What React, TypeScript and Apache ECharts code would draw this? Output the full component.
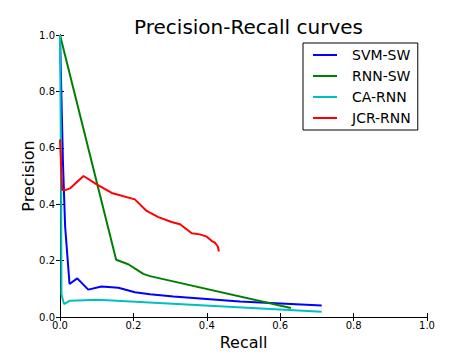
import React, { useEffect, useRef } from "react";
import * as echarts from "echarts";

const seriesNames = ["SVM-SW", "RNN-SW", "CA-RNN", "JCR-RNN"];
const seriesColors = ["#0000ff", "#008000", "#00bfbf", "#ff0000"];

const svmRecall = [0, 0.008, 0.014, 0.026, 0.047, 0.077, 0.113, 0.159, 0.204, 0.245, 0.309, 0.49, 0.713];
const svmPrecision = [1.0, 0.55, 0.32, 0.117, 0.137, 0.097, 0.108, 0.104, 0.088, 0.081, 0.073, 0.055, 0.041];

const rnnRecall = [0, 0.153, 0.186, 0.209, 0.227, 0.245, 0.629];
const rnnPrecision = [1.0, 0.203, 0.187, 0.168, 0.153, 0.145, 0.032];

const caRecall = [0, 0.003, 0.004, 0.011, 0.027, 0.104, 0.713];
const caPrecision = [1.0, 0.5, 0.08, 0.046, 0.058, 0.061, 0.019];

const jcrRecall = [0, 0.006, 0.014, 0.027, 0.064, 0.1, 0.141, 0.204, 0.236, 0.268, 0.304, 0.327, 0.359, 0.381, 0.4, 0.413, 0.422, 0.43, 0.433];
const jcrPrecision = [0.63, 0.45, 0.45, 0.456, 0.5, 0.47, 0.44, 0.417, 0.376, 0.354, 0.337, 0.329, 0.297, 0.293, 0.285, 0.27, 0.264, 0.25, 0.232];

const axisTicks = [0, 0.2, 0.4, 0.6, 0.8, 1.0];

const zip = (xs: number[], ys: number[]) => xs.map((x, i) => [x, ys[i]]);

const FONT = "DejaVu Sans";

export default function App() {
  const ref = useRef<HTMLDivElement>(null);
  useEffect(() => {
    if (!ref.current) return;
    const chart = echarts.init(ref.current, undefined, { renderer: "svg" });
    const dataSets = [
      zip(svmRecall, svmPrecision),
      zip(rnnRecall, rnnPrecision),
      zip(caRecall, caPrecision),
      zip(jcrRecall, jcrPrecision),
    ];
    const baseAxis = {
      type: "value" as const,
      min: axisTicks[0],
      max: axisTicks[axisTicks.length - 1],
      interval: 0.2,
      axisLine: { show: true, lineStyle: { color: "#000", width: 1 } },
      axisTick: { show: true, inside: true, length: 4, lineStyle: { color: "#000" } },
      splitLine: { show: false },
    };
    const labelStyle = {
      show: true,
      color: "#000",
      fontSize: 10,
      fontFamily: FONT,
      formatter: (v: number) => v.toFixed(1),
    };
    chart.setOption({
      animation: false,
      backgroundColor: "#fff",
      title: {
        text: "Precision-Recall curves",
        left: 243.5,
        top: 12,
        textAlign: "center",
        textStyle: { fontFamily: FONT, fontSize: 20, fontWeight: "normal", color: "#000" },
      },
      grid: { left: 60, right: 47, top: 35, bottom: 37, containLabel: false },
      legend: {
        orient: "vertical",
        left: 303,
        top: 43,
        data: seriesNames,
        icon: "rect",
        itemWidth: 24,
        itemHeight: 2,
        itemGap: 7,
        padding: [5, 7, 5, 10],
        borderColor: "#000",
        borderWidth: 1,
        backgroundColor: "#fff",
        textStyle: { fontFamily: FONT, fontSize: 14, color: "#000", padding: [0, 0, 0, 10] },
      },
      xAxis: [
        {
          ...baseAxis,
          position: "bottom",
          name: "Recall",
          nameLocation: "middle",
          nameGap: 17,
          nameMoveOverlap: false,
          nameTextStyle: { fontFamily: FONT, fontSize: 16, color: "#000" },
          axisLabel: { ...labelStyle, margin: 3 },
        },
        { ...baseAxis, position: "top", axisLabel: { show: false } },
      ],
      yAxis: [
        {
          ...baseAxis,
          position: "left",
          name: "Precision",
          nameLocation: "middle",
          nameGap: 24,
          nameMoveOverlap: false,
          nameTextStyle: { fontFamily: FONT, fontSize: 16, color: "#000" },
          axisLabel: { ...labelStyle, margin: 5 },
        },
        { ...baseAxis, position: "right", axisLabel: { show: false } },
      ],
      series: seriesNames.map((name, i) => ({
        name,
        type: "line",
        xAxisIndex: 0,
        yAxisIndex: 0,
        data: dataSets[i],
        showSymbol: false,
        symbol: "none",
        color: seriesColors[i],
        lineStyle: { color: seriesColors[i], width: 2 },
      })),
    });
    return () => chart.dispose();
  }, []);
  return <div ref={ref} style={{ width: 474, height: 355, position: "absolute", left: 0, top: 0 }} />;
}
